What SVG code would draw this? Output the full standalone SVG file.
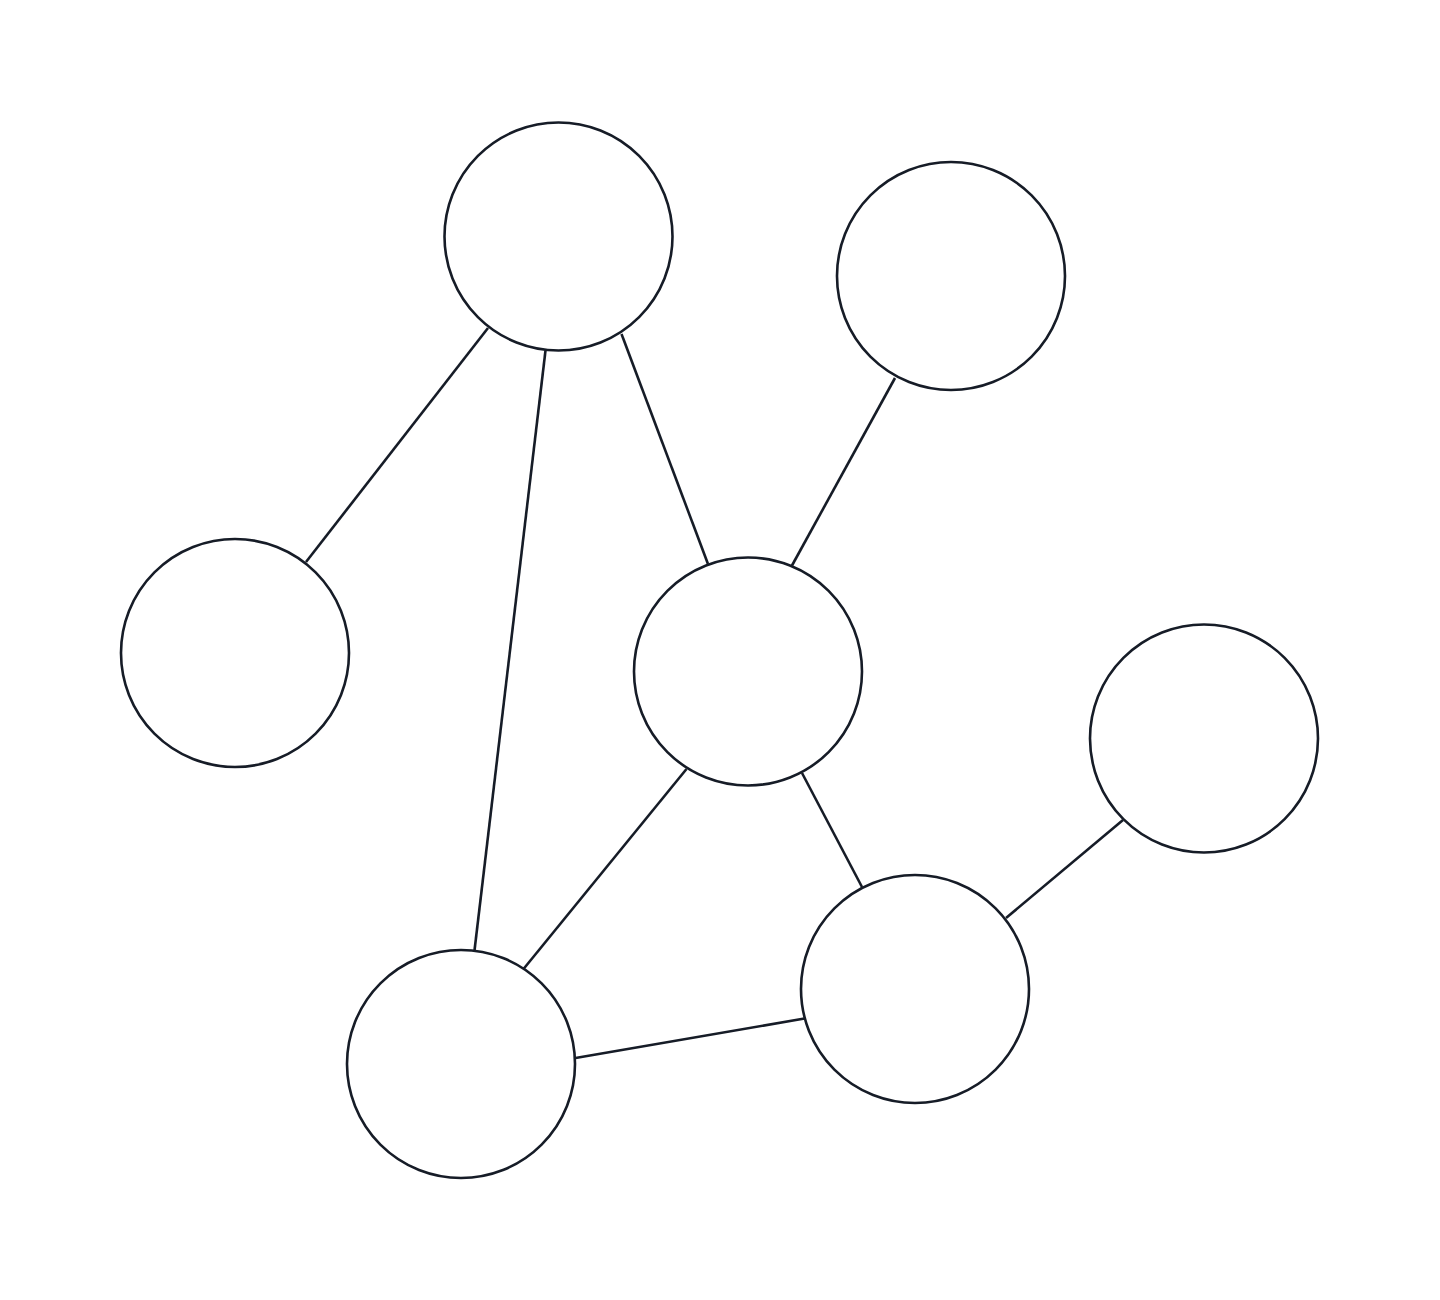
<svg xmlns="http://www.w3.org/2000/svg" width="1440" height="1300" viewBox="0 0 1440 1300">
<style>
.node{fill:#ffffff;stroke:#161c27;stroke-width:2.6}
.edge{stroke:#161c27;stroke-width:2.6;fill:none;stroke-linecap:butt}
</style>
<rect width="1440" height="1300" fill="#ffffff"/>
<g id="connectors">
<line class="edge" x1="488" y1="328" x2="306" y2="562"/>
<line class="edge" x1="545.5" y1="350.5" x2="474.5" y2="950.5"/>
<line class="edge" x1="621.5" y1="334" x2="708" y2="564"/>
<line class="edge" x1="895" y1="378" x2="792" y2="565.5"/>
<line class="edge" x1="686.5" y1="769" x2="523.5" y2="969"/>
<line class="edge" x1="802" y1="773" x2="862" y2="887"/>
<line class="edge" x1="1006" y1="918" x2="1123" y2="820"/>
<line class="edge" x1="575.5" y1="1058" x2="804.5" y2="1018.5"/>
</g>
<g id="node-a"><circle class="node" cx="558.5" cy="236.5" r="114"/></g>
<g id="node-b"><circle class="node" cx="951" cy="276" r="114"/></g>
<g id="node-c"><circle class="node" cx="235" cy="653" r="114"/></g>
<g id="node-d"><circle class="node" cx="748" cy="671.5" r="114"/></g>
<g id="node-e"><circle class="node" cx="1204" cy="738.5" r="114"/></g>
<g id="node-f"><circle class="node" cx="915" cy="989" r="114"/></g>
<g id="node-g"><circle class="node" cx="461" cy="1064" r="114"/></g>
</svg>
